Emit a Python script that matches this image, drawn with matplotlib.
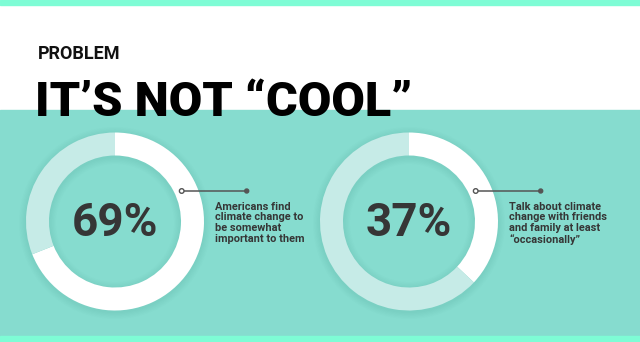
import matplotlib
matplotlib.use("Agg")
import matplotlib.pyplot as plt
from matplotlib.patches import Rectangle, Wedge, Circle

# Survey figures shown in the two rings
shares = [69, 37]
captions = [
    "Americans find\nclimate change to\nbe somewhat\nimportant to them",
    "Talk about climate\nchange with friends\nand family at least\n\u201coccasionally\u201d",
]
kicker = "PROBLEM"
headline = "IT\u2019S NOT \u201cCOOL\u201d"

TEAL = "#86dccf"
MINT = "#7efcd5"
DARK = "#363636"

W, H = 640, 342
fig = plt.figure(figsize=(W / 100, H / 100), dpi=100)
ax = fig.add_axes([0, 0, 1, 1])
ax.set_xlim(0, W)
ax.set_ylim(H, 0)
ax.set_aspect("equal")
ax.axis("off")

# background bands
ax.add_patch(Rectangle((0, 0), W, H, color="white", zorder=0))
ax.add_patch(Rectangle((0, 109.5), W, 227, color=TEAL, zorder=1))
ax.add_patch(Rectangle((0, 0), W, 5, color=MINT, zorder=1))
ax.add_patch(Rectangle((0, 336), W, 6, color=MINT, zorder=1))

ax.text(37.5, 54, kicker, fontsize=13, fontweight="bold", family="Roboto",
        color="#111111", va="center", ha="left", zorder=5)
ax.text(35, 103.5, headline, fontsize=35, fontweight="black", family="Roboto",
        color="black", va="center", ha="left", zorder=5)

centers = [(115, 221.5), (409, 221.5)]
R_OUT, RING_W = 89, 23

for (cx, cy), pct, cap in zip(centers, shares, captions):
    # soft shadow around the ring
    for k in range(6):
        ax.add_patch(Wedge((cx, cy + 1.5), R_OUT + 1 + k * 1.2, 0, 360,
                           width=RING_W + 2 + k * 2.4, color="#3c8f86",
                           alpha=0.025, lw=0, zorder=2))
    start = -90
    end = start + 360 * pct / 100
    ax.add_patch(Wedge((cx, cy), R_OUT, start, end, width=RING_W,
                       color="white", lw=0, zorder=3))
    ax.add_patch(Wedge((cx, cy), R_OUT, end, start + 360, width=RING_W,
                       color="#c6ebe7", lw=0, zorder=3))
    ax.text(cx, cy + 1, f"{pct}%", fontsize=33, fontweight="bold",
            family="Roboto", color=DARK, ha="center", va="center", zorder=5)

    # leader line to the caption
    x0 = cx + 66.7
    x1 = cx + 131.7
    ax.plot([x0, x1], [191, 191], color="#555555", lw=1.1, zorder=4)
    ax.add_patch(Circle((x0, 191), 2.3, facecolor="white", edgecolor="#555555",
                        lw=1, zorder=5))
    ax.add_patch(Circle((x1, 191), 2.0, color="#555555", zorder=5))
    ax.text(cx + 100, 201.5, cap, fontsize=7.9, fontweight="bold",
            family="Roboto", color=DARK, ha="left", va="top",
            linespacing=1.12, zorder=5)

fig.savefig("out.png", dpi=100)
